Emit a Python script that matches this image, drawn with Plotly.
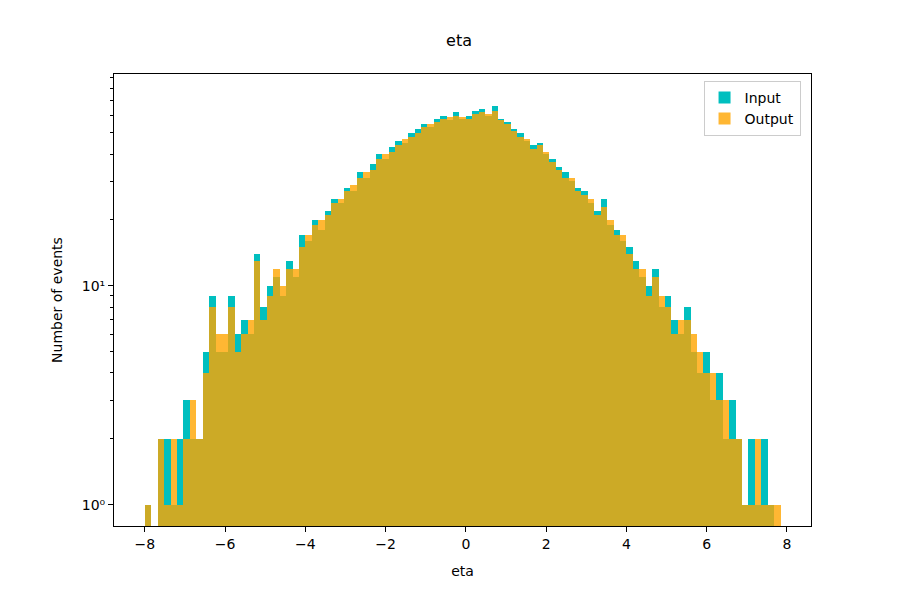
import plotly.graph_objects as go

bin_width = 0.16
centers = [round(-8 + bin_width * (i + 0.5), 2) for i in range(100)]
input_counts = [1,0,2,2,1,2, 3,2,2,5,9,5, 5,9,6,7,6,14, 8,10,11,9,13,11,
                17,16,20,18,22,25, 24,28,27,33,31,36, 40,38,43,46,45,50,
                52,55,53,58,60,57, 62,58,60,63, 64,60,66,58,56,52,
                50,46,44,45,40,38, 35,33,30,28,27,24, 22,25,19,18,16,15,
                13,11,10,12,8,9, 7,6,8,5,4,5, 3,4,2,3,2,1, 2,1,2,1,0,0]
output_counts = [1,0,2,1,2,1, 2,3,2,4,8,6, 6,8,5,6,7,13, 7,9,12,10,12,12,
                 15,17,19,20,21,24, 25,27,29,31,33,34, 38,40,41,44,47,48,
                 50,53,55,56,58,59, 60,59,58,61, 62,61,63,57,55,51,
                 48,47,42,44,41,37, 34,31,31,27,26,25, 21,23,20,17,17,14,
                 12,12,9,11,9,8, 6,7,7,6,5,4, 4,3,3,2,2,1, 1,2,1,1,1,0]
y_ticks = [1, 10]
y_tick_labels = ["10⁰", "10¹"]
y_minor = [2, 3, 4, 5, 6, 7, 8, 9, 20, 30, 40, 50, 60, 70, 80, 90]

def nz(v):
    return [c if c > 0 else None for c in v]

fig = go.Figure()
fig.add_bar(x=centers, y=nz(input_counts), width=bin_width, name="Input",
            marker=dict(color="#00BFBF", line=dict(width=0)))
fig.add_bar(x=centers, y=nz(output_counts), width=bin_width, name="Output",
            marker=dict(color="rgba(255,165,0,0.8)", line=dict(width=0)))

axis_common = dict(showline=True, linecolor="black", mirror=True, ticks="outside",
                   tickcolor="black", showgrid=False, zeroline=False,
                   tickfont=dict(family="DejaVu Sans", size=14, color="black"))
fig.update_layout(
    width=902, height=600, barmode="overlay", bargap=0,
    plot_bgcolor="white", paper_bgcolor="white",
    margin=dict(l=106, r=99, t=66, b=82),
    title=dict(text="eta", x=0.5, y=0.955, xanchor="center",
               font=dict(family="DejaVu Sans", size=16, color="black")),
    font=dict(family="DejaVu Sans", color="black"),
    xaxis=dict(range=[-8.77, 8.6], tickvals=[-8,-6,-4,-2,0,2,4,6,8],
               ticktext=["−8","−6","−4","−2","0","2","4","6","8"],
               title=dict(text="eta", font=dict(size=14)), **axis_common),
    yaxis=dict(type="log", range=[-0.097, 1.968], tickvals=y_ticks,
               ticktext=y_tick_labels,
               minor=dict(ticks="outside", tickcolor="black", ticklen=3,
                          tickvals=y_minor, showgrid=False),
               title=dict(text="Number of events", font=dict(size=14)), **axis_common),
    legend=dict(x=0.985, y=0.985, xanchor="right", yanchor="top",
                bordercolor="#cccccc", borderwidth=1, bgcolor="white",
                font=dict(size=14)),
)
fig.write_html("out.html")
